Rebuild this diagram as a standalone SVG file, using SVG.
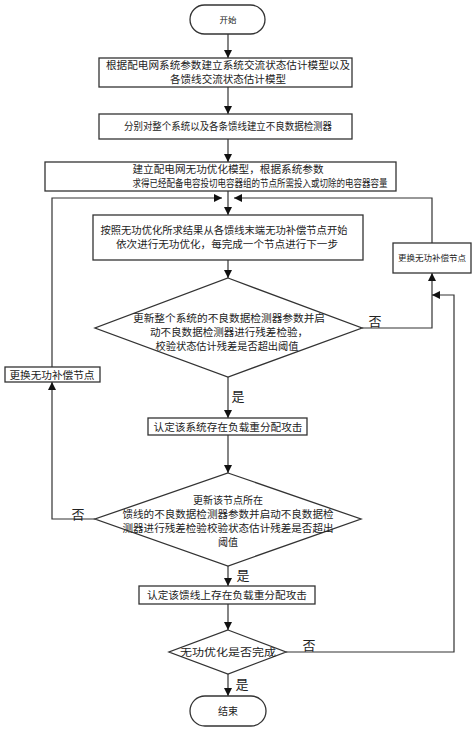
<svg xmlns="http://www.w3.org/2000/svg" width="474" height="731" viewBox="0 0 474 731">
<defs>
<marker id="ah" markerWidth="8" markerHeight="8" refX="8" refY="4" orient="auto" markerUnits="userSpaceOnUse">
<path d="M0,0 L8,4 L0,8 Z" fill="#111"/>
</marker>
</defs>
<style>
.n{fill:#fff;stroke:#333;stroke-width:1.3}
.c{fill:none;stroke:#333;stroke-width:1.2}
.t{font-family:"Noto Sans CJK SC","Noto Sans",sans-serif;font-size:10px;fill:#222;text-anchor:middle}
.s{font-size:8.5px}
.l{font-family:"Noto Sans CJK SC","Noto Sans",sans-serif;font-size:13px;fill:#222;text-anchor:middle}
</style>
<rect width="474" height="731" fill="#fff"/>
<g id="connectors">
<line class="c" x1="228" y1="34" x2="228" y2="58" marker-end="url(#ah)"/>
<line class="c" x1="228" y1="87" x2="228" y2="114" marker-end="url(#ah)"/>
<line class="c" x1="228" y1="139" x2="228" y2="162" marker-end="url(#ah)"/>
<line class="c" x1="228" y1="191" x2="228" y2="215" marker-end="url(#ah)"/>
<polyline class="c" points="95,519 52,519 52,382" marker-end="url(#ah)"/>
<polyline class="c" points="52,368 52,198 222,198" marker-end="url(#ah)"/>
<polyline class="c" points="362,328 432,328 432,273" marker-end="url(#ah)"/>
<polyline class="c" points="432,243 432,198 234,198" marker-end="url(#ah)"/>
<polyline class="c" points="286,652 454,652 454,295 432,295" marker-end="url(#ah)"/>
<line class="c" x1="228" y1="260" x2="228" y2="278" marker-end="url(#ah)"/>
<line class="c" x1="228" y1="377" x2="228" y2="418" marker-end="url(#ah)"/>
<line class="c" x1="228" y1="435" x2="228" y2="473" marker-end="url(#ah)"/>
<line class="c" x1="228" y1="566" x2="228" y2="586" marker-end="url(#ah)"/>
<line class="c" x1="228" y1="604" x2="228" y2="630" marker-end="url(#ah)"/>
<line class="c" x1="228" y1="674" x2="228" y2="696" marker-end="url(#ah)"/>
<text class="l" x="375" y="326">否</text>
<text class="l" x="238" y="401">是</text>
<text class="l" x="78" y="519">否</text>
<text class="l" x="243" y="580">是</text>
<text class="l" x="309" y="650">否</text>
<text class="l" x="242" y="689">是</text>
</g>
<g id="start">
<rect class="n" x="190" y="5" width="75" height="29" rx="14.5"/>
<text class="t s" x="228" y="23">开始</text>
</g>
<g id="box1">
<rect class="n" x="99" y="58" width="253" height="29"/>
<text class="t" x="228" y="69" textLength="244" lengthAdjust="spacingAndGlyphs">根据配电网系统参数建立系统交流状态估计模型以及</text>
<text class="t" x="228" y="83" textLength="116" lengthAdjust="spacingAndGlyphs">各馈线交流状态估计模型</text>
</g>
<g id="box2">
<rect class="n" x="99" y="114" width="253" height="25"/>
<text class="t" x="228" y="130" textLength="208" lengthAdjust="spacingAndGlyphs">分别对整个系统以及各条馈线建立不良数据检测器</text>
</g>
<g id="box3">
<rect class="n" x="45" y="162" width="351" height="29"/>
<text class="t" x="228" y="173" textLength="191" lengthAdjust="spacingAndGlyphs">建立配电网无功优化模型，根据系统参数</text>
<text class="t" x="260" y="187" textLength="255" lengthAdjust="spacingAndGlyphs">求得已经配备电容投切电容器组的节点所需投入或切除的电容器容量</text>
</g>
<g id="box5">
<rect class="n" x="93" y="215" width="270" height="45"/>
<text class="t" x="224" y="234" textLength="247" lengthAdjust="spacingAndGlyphs">按照无功优化所求结果从各馈线末端无功补偿节点开始</text>
<text class="t" x="227" y="248" textLength="222" lengthAdjust="spacingAndGlyphs">依次进行无功优化，每完成一个节点进行下一步</text>
</g>
<g id="diamond1">
<polygon class="n" points="228,278 362,328 228,377 95,328"/>
<text class="t" x="229" y="322" textLength="192" lengthAdjust="spacingAndGlyphs">更新整个系统的不良数据检测器参数并启</text>
<text class="t" x="229" y="336" textLength="158" lengthAdjust="spacingAndGlyphs">动不良数据检测器进行残差检验，</text>
<text class="t" x="227" y="350" textLength="143" lengthAdjust="spacingAndGlyphs">校验状态估计残差是否超出阈值</text>
</g>
<g id="rbox">
<rect class="n" x="393" y="243" width="78" height="30"/>
<text class="t s" x="432" y="261">更换无功补偿节点</text>
</g>
<g id="lbox">
<rect class="n" x="5" y="367" width="95" height="15"/>
<text class="t" x="52" y="378.5" textLength="85" lengthAdjust="spacingAndGlyphs">更换无功补偿节点</text>
</g>
<g id="box6">
<rect class="n" x="148" y="418" width="159" height="17"/>
<text class="t" x="228" y="430.5" textLength="149" lengthAdjust="spacingAndGlyphs">认定该系统存在负载重分配攻击</text>
</g>
<g id="diamond2">
<polygon class="n" points="228,473 361,519 228,566 95,519"/>
<text class="t" x="228" y="504">更新该节点所在</text>
<text class="t" x="228" y="518" textLength="211" lengthAdjust="spacingAndGlyphs">馈线的不良数据检测器参数并启动不良数据检</text>
<text class="t" x="228" y="532" textLength="211" lengthAdjust="spacingAndGlyphs">测器进行残差检验校验状态估计残差是否超出</text>
<text class="t" x="228" y="546">阈值</text>
</g>
<g id="box7">
<rect class="n" x="139" y="586" width="176" height="18"/>
<text class="t" x="227" y="599" textLength="160" lengthAdjust="spacingAndGlyphs">认定该馈线上存在负载重分配攻击</text>
</g>
<g id="diamond3">
<polygon class="n" points="228,630 286,652 228,674 169,652"/>
<text class="t" x="228" y="656" textLength="96" lengthAdjust="spacingAndGlyphs">无功优化是否完成</text>
</g>
<g id="end">
<rect class="n" x="190" y="696" width="76" height="30" rx="15"/>
<text class="t" x="228" y="715">结束</text>
</g>
</svg>
